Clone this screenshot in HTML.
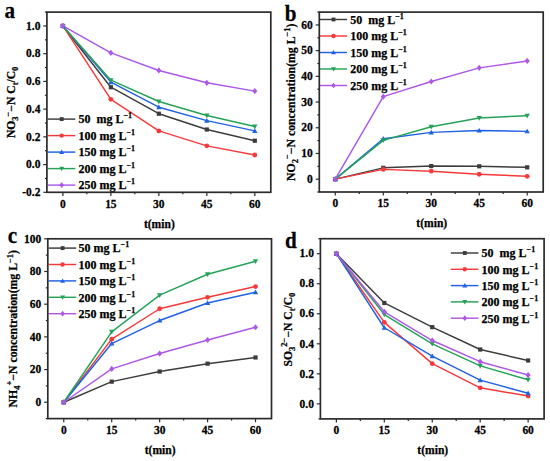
<!DOCTYPE html>
<html><head><meta charset="utf-8"><style>
html,body{margin:0;padding:0;background:#fff;}
body{width:550px;height:461px;overflow:hidden;font-family:"Liberation Serif",serif;}
svg{display:block;}
</style></head><body>
<svg width="550" height="461" viewBox="0 0 550 461">
<rect width="550" height="461" fill="#fff"/>
<polyline points="62.89,25.96 110.87,87.23 158.85,113.71 206.83,129.51 254.81,140.74" fill="none" stroke="#3c3c3c" stroke-width="1.45" stroke-linejoin="round"/>
<polyline points="62.89,25.96 110.87,99.29 158.85,130.89 206.83,145.86 254.81,155.01" fill="none" stroke="#f8393a" stroke-width="1.45" stroke-linejoin="round"/>
<polyline points="62.89,25.96 110.87,82.10 158.85,107.19 206.83,120.64 254.81,130.89" fill="none" stroke="#1e62e6" stroke-width="1.45" stroke-linejoin="round"/>
<polyline points="62.89,25.96 110.87,80.16 158.85,101.51 206.83,115.51 254.81,126.46" fill="none" stroke="#26a257" stroke-width="1.45" stroke-linejoin="round"/>
<polyline points="62.89,25.96 110.87,52.85 158.85,70.46 206.83,82.79 254.81,91.11" fill="none" stroke="#ae58e8" stroke-width="1.45" stroke-linejoin="round"/>
<rect x="60.79" y="23.86" width="4.20" height="4.20" fill="#3c3c3c"/>
<rect x="108.77" y="85.13" width="4.20" height="4.20" fill="#3c3c3c"/>
<rect x="156.75" y="111.61" width="4.20" height="4.20" fill="#3c3c3c"/>
<rect x="204.73" y="127.41" width="4.20" height="4.20" fill="#3c3c3c"/>
<rect x="252.71" y="138.64" width="4.20" height="4.20" fill="#3c3c3c"/>
<circle cx="62.89" cy="25.96" r="2.40" fill="#f8393a"/>
<circle cx="110.87" cy="99.29" r="2.40" fill="#f8393a"/>
<circle cx="158.85" cy="130.89" r="2.40" fill="#f8393a"/>
<circle cx="206.83" cy="145.86" r="2.40" fill="#f8393a"/>
<circle cx="254.81" cy="155.01" r="2.40" fill="#f8393a"/>
<path d="M62.89,23.26 L65.59,27.99 L60.19,27.99Z" fill="#1e62e6"/>
<path d="M110.87,79.40 L113.57,84.13 L108.17,84.13Z" fill="#1e62e6"/>
<path d="M158.85,104.49 L161.55,109.22 L156.15,109.22Z" fill="#1e62e6"/>
<path d="M206.83,117.94 L209.53,122.66 L204.13,122.66Z" fill="#1e62e6"/>
<path d="M254.81,128.19 L257.51,132.92 L252.11,132.92Z" fill="#1e62e6"/>
<path d="M62.89,28.66 L65.59,23.94 L60.19,23.94Z" fill="#26a257"/>
<path d="M110.87,82.86 L113.57,78.14 L108.17,78.14Z" fill="#26a257"/>
<path d="M158.85,104.21 L161.55,99.48 L156.15,99.48Z" fill="#26a257"/>
<path d="M206.83,118.21 L209.53,113.48 L204.13,113.48Z" fill="#26a257"/>
<path d="M254.81,129.16 L257.51,124.43 L252.11,124.43Z" fill="#26a257"/>
<path d="M62.89,22.86 L65.43,25.96 L62.89,29.06 L60.35,25.96Z" fill="#ae58e8"/>
<path d="M110.87,49.75 L113.41,52.85 L110.87,55.95 L108.33,52.85Z" fill="#ae58e8"/>
<path d="M158.85,67.36 L161.39,70.46 L158.85,73.56 L156.31,70.46Z" fill="#ae58e8"/>
<path d="M206.83,79.69 L209.37,82.79 L206.83,85.89 L204.29,82.79Z" fill="#ae58e8"/>
<path d="M254.81,88.01 L257.35,91.11 L254.81,94.21 L252.27,91.11Z" fill="#ae58e8"/>
<line x1="47.70" y1="119.10" x2="75.30" y2="119.10" stroke="#3c3c3c" stroke-width="1.45"/>
<rect x="59.77" y="117.17" width="3.86" height="3.86" fill="#3c3c3c"/>
<text x="78.50" y="123.40" font-size="12" font-family="'Liberation Serif', serif" font-weight="bold" stroke="#000" stroke-width="0.25">50  mg L<tspan font-size="8" dy="-5">−1</tspan></text>
<line x1="47.70" y1="135.60" x2="75.30" y2="135.60" stroke="#f8393a" stroke-width="1.45"/>
<circle cx="61.70" cy="135.60" r="2.21" fill="#f8393a"/>
<text x="78.50" y="139.90" font-size="12" font-family="'Liberation Serif', serif" font-weight="bold" stroke="#000" stroke-width="0.25">100 mg L<tspan font-size="8" dy="-5">−1</tspan></text>
<line x1="47.70" y1="152.10" x2="75.30" y2="152.10" stroke="#1e62e6" stroke-width="1.45"/>
<path d="M61.70,149.62 L64.18,153.96 L59.22,153.96Z" fill="#1e62e6"/>
<text x="78.50" y="156.40" font-size="12" font-family="'Liberation Serif', serif" font-weight="bold" stroke="#000" stroke-width="0.25">150 mg L<tspan font-size="8" dy="-5">−1</tspan></text>
<line x1="47.70" y1="168.60" x2="75.30" y2="168.60" stroke="#26a257" stroke-width="1.45"/>
<path d="M61.70,171.08 L64.18,166.74 L59.22,166.74Z" fill="#26a257"/>
<text x="78.50" y="172.90" font-size="12" font-family="'Liberation Serif', serif" font-weight="bold" stroke="#000" stroke-width="0.25">200 mg L<tspan font-size="8" dy="-5">−1</tspan></text>
<line x1="47.70" y1="185.10" x2="75.30" y2="185.10" stroke="#ae58e8" stroke-width="1.45"/>
<path d="M61.70,182.25 L64.04,185.10 L61.70,187.95 L59.36,185.10Z" fill="#ae58e8"/>
<text x="78.50" y="189.40" font-size="12" font-family="'Liberation Serif', serif" font-weight="bold" stroke="#000" stroke-width="0.25">250 mg L<tspan font-size="8" dy="-5">−1</tspan></text>
<rect x="46.90" y="12.10" width="223.90" height="180.20" fill="none" stroke="#2b2b2b" stroke-width="1.7"/>
<line x1="62.89" y1="192.30" x2="62.89" y2="195.90" stroke="#2b2b2b" stroke-width="1.2"/>
<text transform="translate(62.89,207.60) scale(1,1.11)" font-size="11.5" text-anchor="middle" font-family="'Liberation Serif', serif" font-weight="bold" stroke="#000" stroke-width="0.25">0</text>
<line x1="110.87" y1="192.30" x2="110.87" y2="195.90" stroke="#2b2b2b" stroke-width="1.2"/>
<text transform="translate(110.87,207.60) scale(1,1.11)" font-size="11.5" text-anchor="middle" font-family="'Liberation Serif', serif" font-weight="bold" stroke="#000" stroke-width="0.25">15</text>
<line x1="158.85" y1="192.30" x2="158.85" y2="195.90" stroke="#2b2b2b" stroke-width="1.2"/>
<text transform="translate(158.85,207.60) scale(1,1.11)" font-size="11.5" text-anchor="middle" font-family="'Liberation Serif', serif" font-weight="bold" stroke="#000" stroke-width="0.25">30</text>
<line x1="206.83" y1="192.30" x2="206.83" y2="195.90" stroke="#2b2b2b" stroke-width="1.2"/>
<text transform="translate(206.83,207.60) scale(1,1.11)" font-size="11.5" text-anchor="middle" font-family="'Liberation Serif', serif" font-weight="bold" stroke="#000" stroke-width="0.25">45</text>
<line x1="254.81" y1="192.30" x2="254.81" y2="195.90" stroke="#2b2b2b" stroke-width="1.2"/>
<text transform="translate(254.81,207.60) scale(1,1.11)" font-size="11.5" text-anchor="middle" font-family="'Liberation Serif', serif" font-weight="bold" stroke="#000" stroke-width="0.25">60</text>
<line x1="86.88" y1="192.30" x2="86.88" y2="194.30" stroke="#2b2b2b" stroke-width="1.2"/>
<line x1="134.86" y1="192.30" x2="134.86" y2="194.30" stroke="#2b2b2b" stroke-width="1.2"/>
<line x1="182.84" y1="192.30" x2="182.84" y2="194.30" stroke="#2b2b2b" stroke-width="1.2"/>
<line x1="230.82" y1="192.30" x2="230.82" y2="194.30" stroke="#2b2b2b" stroke-width="1.2"/>
<text x="159.35" y="227.60" font-size="11.6" text-anchor="middle" font-family="'Liberation Serif', serif" font-weight="bold" stroke="#000" stroke-width="0.25">t(min)</text>
<line x1="43.30" y1="192.30" x2="46.90" y2="192.30" stroke="#2b2b2b" stroke-width="1.2"/>
<text transform="translate(40.40,196.00) scale(1,1.11)" font-size="11.5" text-anchor="end" font-family="'Liberation Serif', serif" font-weight="bold" stroke="#000" stroke-width="0.25">-0.2</text>
<line x1="43.30" y1="164.58" x2="46.90" y2="164.58" stroke="#2b2b2b" stroke-width="1.2"/>
<text transform="translate(40.40,168.28) scale(1,1.11)" font-size="11.5" text-anchor="end" font-family="'Liberation Serif', serif" font-weight="bold" stroke="#000" stroke-width="0.25">0.0</text>
<line x1="43.30" y1="136.85" x2="46.90" y2="136.85" stroke="#2b2b2b" stroke-width="1.2"/>
<text transform="translate(40.40,140.55) scale(1,1.11)" font-size="11.5" text-anchor="end" font-family="'Liberation Serif', serif" font-weight="bold" stroke="#000" stroke-width="0.25">0.2</text>
<line x1="43.30" y1="109.13" x2="46.90" y2="109.13" stroke="#2b2b2b" stroke-width="1.2"/>
<text transform="translate(40.40,112.83) scale(1,1.11)" font-size="11.5" text-anchor="end" font-family="'Liberation Serif', serif" font-weight="bold" stroke="#000" stroke-width="0.25">0.4</text>
<line x1="43.30" y1="81.41" x2="46.90" y2="81.41" stroke="#2b2b2b" stroke-width="1.2"/>
<text transform="translate(40.40,85.11) scale(1,1.11)" font-size="11.5" text-anchor="end" font-family="'Liberation Serif', serif" font-weight="bold" stroke="#000" stroke-width="0.25">0.6</text>
<line x1="43.30" y1="53.68" x2="46.90" y2="53.68" stroke="#2b2b2b" stroke-width="1.2"/>
<text transform="translate(40.40,57.38) scale(1,1.11)" font-size="11.5" text-anchor="end" font-family="'Liberation Serif', serif" font-weight="bold" stroke="#000" stroke-width="0.25">0.8</text>
<line x1="43.30" y1="25.96" x2="46.90" y2="25.96" stroke="#2b2b2b" stroke-width="1.2"/>
<text transform="translate(40.40,29.66) scale(1,1.11)" font-size="11.5" text-anchor="end" font-family="'Liberation Serif', serif" font-weight="bold" stroke="#000" stroke-width="0.25">1.0</text>
<line x1="44.90" y1="178.44" x2="46.90" y2="178.44" stroke="#2b2b2b" stroke-width="1.2"/>
<line x1="44.90" y1="150.72" x2="46.90" y2="150.72" stroke="#2b2b2b" stroke-width="1.2"/>
<line x1="44.90" y1="122.99" x2="46.90" y2="122.99" stroke="#2b2b2b" stroke-width="1.2"/>
<line x1="44.90" y1="95.27" x2="46.90" y2="95.27" stroke="#2b2b2b" stroke-width="1.2"/>
<line x1="44.90" y1="67.55" x2="46.90" y2="67.55" stroke="#2b2b2b" stroke-width="1.2"/>
<line x1="44.90" y1="39.82" x2="46.90" y2="39.82" stroke="#2b2b2b" stroke-width="1.2"/>
<line x1="44.90" y1="12.10" x2="46.90" y2="12.10" stroke="#2b2b2b" stroke-width="1.2"/>
<text transform="translate(4.40,17.70) scale(0.92,1)" font-size="23" font-family="'Liberation Serif', serif" font-weight="bold" stroke="#000" stroke-width="0.25">a</text>
<text transform="translate(15.4,102.4) rotate(-90)" text-anchor="middle" font-size="11.6" font-family="'Liberation Serif', serif" font-weight="bold" stroke="#000" stroke-width="0.25">NO<tspan font-size="8.5" dy="2.8">3</tspan><tspan font-size="8.5" dy="-7.5">−</tspan><tspan dy="4.7">−N C</tspan><tspan font-size="8.5" dy="2.8">t</tspan><tspan dy="-2.8">/C</tspan><tspan font-size="8.5" dy="2.8">0</tspan></text>
<polyline points="335.29,179.15 383.27,167.84 431.25,166.04 479.23,166.30 527.21,167.33" fill="none" stroke="#3c3c3c" stroke-width="1.45" stroke-linejoin="round"/>
<polyline points="335.29,179.15 383.27,169.38 431.25,171.18 479.23,174.27 527.21,176.32" fill="none" stroke="#f8393a" stroke-width="1.45" stroke-linejoin="round"/>
<polyline points="335.29,179.15 383.27,138.80 431.25,132.38 479.23,130.58 527.21,131.35" fill="none" stroke="#1e62e6" stroke-width="1.45" stroke-linejoin="round"/>
<polyline points="335.29,179.15 383.27,140.34 431.25,126.72 479.23,117.98 527.21,115.67" fill="none" stroke="#26a257" stroke-width="1.45" stroke-linejoin="round"/>
<polyline points="335.29,179.15 383.27,96.65 431.25,81.49 479.23,67.87 527.21,60.93" fill="none" stroke="#ae58e8" stroke-width="1.45" stroke-linejoin="round"/>
<rect x="333.19" y="177.05" width="4.20" height="4.20" fill="#3c3c3c"/>
<rect x="381.17" y="165.74" width="4.20" height="4.20" fill="#3c3c3c"/>
<rect x="429.15" y="163.94" width="4.20" height="4.20" fill="#3c3c3c"/>
<rect x="477.13" y="164.20" width="4.20" height="4.20" fill="#3c3c3c"/>
<rect x="525.11" y="165.23" width="4.20" height="4.20" fill="#3c3c3c"/>
<circle cx="335.29" cy="179.15" r="2.40" fill="#f8393a"/>
<circle cx="383.27" cy="169.38" r="2.40" fill="#f8393a"/>
<circle cx="431.25" cy="171.18" r="2.40" fill="#f8393a"/>
<circle cx="479.23" cy="174.27" r="2.40" fill="#f8393a"/>
<circle cx="527.21" cy="176.32" r="2.40" fill="#f8393a"/>
<path d="M335.29,176.45 L337.99,181.18 L332.59,181.18Z" fill="#1e62e6"/>
<path d="M383.27,136.10 L385.97,140.83 L380.57,140.83Z" fill="#1e62e6"/>
<path d="M431.25,129.68 L433.95,134.40 L428.55,134.40Z" fill="#1e62e6"/>
<path d="M479.23,127.88 L481.93,132.60 L476.53,132.60Z" fill="#1e62e6"/>
<path d="M527.21,128.65 L529.91,133.37 L524.51,133.37Z" fill="#1e62e6"/>
<path d="M335.29,181.85 L337.99,177.12 L332.59,177.12Z" fill="#26a257"/>
<path d="M383.27,143.04 L385.97,138.32 L380.57,138.32Z" fill="#26a257"/>
<path d="M431.25,129.42 L433.95,124.70 L428.55,124.70Z" fill="#26a257"/>
<path d="M479.23,120.68 L481.93,115.96 L476.53,115.96Z" fill="#26a257"/>
<path d="M527.21,118.37 L529.91,113.65 L524.51,113.65Z" fill="#26a257"/>
<path d="M335.29,176.05 L337.83,179.15 L335.29,182.25 L332.75,179.15Z" fill="#ae58e8"/>
<path d="M383.27,93.55 L385.81,96.65 L383.27,99.75 L380.73,96.65Z" fill="#ae58e8"/>
<path d="M431.25,78.39 L433.79,81.49 L431.25,84.59 L428.71,81.49Z" fill="#ae58e8"/>
<path d="M479.23,64.77 L481.77,67.87 L479.23,70.97 L476.69,67.87Z" fill="#ae58e8"/>
<path d="M527.21,57.83 L529.75,60.93 L527.21,64.03 L524.67,60.93Z" fill="#ae58e8"/>
<line x1="319.50" y1="19.50" x2="347.10" y2="19.50" stroke="#3c3c3c" stroke-width="1.45"/>
<rect x="331.57" y="17.57" width="3.86" height="3.86" fill="#3c3c3c"/>
<text x="350.30" y="23.80" font-size="12" font-family="'Liberation Serif', serif" font-weight="bold" stroke="#000" stroke-width="0.25">50  mg L<tspan font-size="8" dy="-5">−1</tspan></text>
<line x1="319.50" y1="36.00" x2="347.10" y2="36.00" stroke="#f8393a" stroke-width="1.45"/>
<circle cx="333.50" cy="36.00" r="2.21" fill="#f8393a"/>
<text x="350.30" y="40.30" font-size="12" font-family="'Liberation Serif', serif" font-weight="bold" stroke="#000" stroke-width="0.25">100 mg L<tspan font-size="8" dy="-5">−1</tspan></text>
<line x1="319.50" y1="52.50" x2="347.10" y2="52.50" stroke="#1e62e6" stroke-width="1.45"/>
<path d="M333.50,50.02 L335.98,54.36 L331.02,54.36Z" fill="#1e62e6"/>
<text x="350.30" y="56.80" font-size="12" font-family="'Liberation Serif', serif" font-weight="bold" stroke="#000" stroke-width="0.25">150 mg L<tspan font-size="8" dy="-5">−1</tspan></text>
<line x1="319.50" y1="69.00" x2="347.10" y2="69.00" stroke="#26a257" stroke-width="1.45"/>
<path d="M333.50,71.48 L335.98,67.14 L331.02,67.14Z" fill="#26a257"/>
<text x="350.30" y="73.30" font-size="12" font-family="'Liberation Serif', serif" font-weight="bold" stroke="#000" stroke-width="0.25">200 mg L<tspan font-size="8" dy="-5">−1</tspan></text>
<line x1="319.50" y1="85.50" x2="347.10" y2="85.50" stroke="#ae58e8" stroke-width="1.45"/>
<path d="M333.50,82.65 L335.84,85.50 L333.50,88.35 L331.16,85.50Z" fill="#ae58e8"/>
<text x="350.30" y="89.80" font-size="12" font-family="'Liberation Serif', serif" font-weight="bold" stroke="#000" stroke-width="0.25">250 mg L<tspan font-size="8" dy="-5">−1</tspan></text>
<rect x="319.30" y="12.10" width="223.90" height="179.90" fill="none" stroke="#2b2b2b" stroke-width="1.7"/>
<line x1="335.29" y1="192.00" x2="335.29" y2="195.60" stroke="#2b2b2b" stroke-width="1.2"/>
<text transform="translate(335.29,207.30) scale(1,1.11)" font-size="11.5" text-anchor="middle" font-family="'Liberation Serif', serif" font-weight="bold" stroke="#000" stroke-width="0.25">0</text>
<line x1="383.27" y1="192.00" x2="383.27" y2="195.60" stroke="#2b2b2b" stroke-width="1.2"/>
<text transform="translate(383.27,207.30) scale(1,1.11)" font-size="11.5" text-anchor="middle" font-family="'Liberation Serif', serif" font-weight="bold" stroke="#000" stroke-width="0.25">15</text>
<line x1="431.25" y1="192.00" x2="431.25" y2="195.60" stroke="#2b2b2b" stroke-width="1.2"/>
<text transform="translate(431.25,207.30) scale(1,1.11)" font-size="11.5" text-anchor="middle" font-family="'Liberation Serif', serif" font-weight="bold" stroke="#000" stroke-width="0.25">30</text>
<line x1="479.23" y1="192.00" x2="479.23" y2="195.60" stroke="#2b2b2b" stroke-width="1.2"/>
<text transform="translate(479.23,207.30) scale(1,1.11)" font-size="11.5" text-anchor="middle" font-family="'Liberation Serif', serif" font-weight="bold" stroke="#000" stroke-width="0.25">45</text>
<line x1="527.21" y1="192.00" x2="527.21" y2="195.60" stroke="#2b2b2b" stroke-width="1.2"/>
<text transform="translate(527.21,207.30) scale(1,1.11)" font-size="11.5" text-anchor="middle" font-family="'Liberation Serif', serif" font-weight="bold" stroke="#000" stroke-width="0.25">60</text>
<line x1="359.28" y1="192.00" x2="359.28" y2="194.00" stroke="#2b2b2b" stroke-width="1.2"/>
<line x1="407.26" y1="192.00" x2="407.26" y2="194.00" stroke="#2b2b2b" stroke-width="1.2"/>
<line x1="455.24" y1="192.00" x2="455.24" y2="194.00" stroke="#2b2b2b" stroke-width="1.2"/>
<line x1="503.22" y1="192.00" x2="503.22" y2="194.00" stroke="#2b2b2b" stroke-width="1.2"/>
<text x="431.75" y="227.30" font-size="11.6" text-anchor="middle" font-family="'Liberation Serif', serif" font-weight="bold" stroke="#000" stroke-width="0.25">t(min)</text>
<line x1="315.70" y1="179.15" x2="319.30" y2="179.15" stroke="#2b2b2b" stroke-width="1.2"/>
<text transform="translate(312.80,182.85) scale(1,1.11)" font-size="11.5" text-anchor="end" font-family="'Liberation Serif', serif" font-weight="bold" stroke="#000" stroke-width="0.25">0</text>
<line x1="315.70" y1="153.45" x2="319.30" y2="153.45" stroke="#2b2b2b" stroke-width="1.2"/>
<text transform="translate(312.80,157.15) scale(1,1.11)" font-size="11.5" text-anchor="end" font-family="'Liberation Serif', serif" font-weight="bold" stroke="#000" stroke-width="0.25">10</text>
<line x1="315.70" y1="127.75" x2="319.30" y2="127.75" stroke="#2b2b2b" stroke-width="1.2"/>
<text transform="translate(312.80,131.45) scale(1,1.11)" font-size="11.5" text-anchor="end" font-family="'Liberation Serif', serif" font-weight="bold" stroke="#000" stroke-width="0.25">20</text>
<line x1="315.70" y1="102.05" x2="319.30" y2="102.05" stroke="#2b2b2b" stroke-width="1.2"/>
<text transform="translate(312.80,105.75) scale(1,1.11)" font-size="11.5" text-anchor="end" font-family="'Liberation Serif', serif" font-weight="bold" stroke="#000" stroke-width="0.25">30</text>
<line x1="315.70" y1="76.35" x2="319.30" y2="76.35" stroke="#2b2b2b" stroke-width="1.2"/>
<text transform="translate(312.80,80.05) scale(1,1.11)" font-size="11.5" text-anchor="end" font-family="'Liberation Serif', serif" font-weight="bold" stroke="#000" stroke-width="0.25">40</text>
<line x1="315.70" y1="50.65" x2="319.30" y2="50.65" stroke="#2b2b2b" stroke-width="1.2"/>
<text transform="translate(312.80,54.35) scale(1,1.11)" font-size="11.5" text-anchor="end" font-family="'Liberation Serif', serif" font-weight="bold" stroke="#000" stroke-width="0.25">50</text>
<line x1="315.70" y1="24.95" x2="319.30" y2="24.95" stroke="#2b2b2b" stroke-width="1.2"/>
<text transform="translate(312.80,28.65) scale(1,1.11)" font-size="11.5" text-anchor="end" font-family="'Liberation Serif', serif" font-weight="bold" stroke="#000" stroke-width="0.25">60</text>
<line x1="317.30" y1="192.00" x2="319.30" y2="192.00" stroke="#2b2b2b" stroke-width="1.2"/>
<line x1="317.30" y1="166.30" x2="319.30" y2="166.30" stroke="#2b2b2b" stroke-width="1.2"/>
<line x1="317.30" y1="140.60" x2="319.30" y2="140.60" stroke="#2b2b2b" stroke-width="1.2"/>
<line x1="317.30" y1="114.90" x2="319.30" y2="114.90" stroke="#2b2b2b" stroke-width="1.2"/>
<line x1="317.30" y1="89.20" x2="319.30" y2="89.20" stroke="#2b2b2b" stroke-width="1.2"/>
<line x1="317.30" y1="63.50" x2="319.30" y2="63.50" stroke="#2b2b2b" stroke-width="1.2"/>
<line x1="317.30" y1="37.80" x2="319.30" y2="37.80" stroke="#2b2b2b" stroke-width="1.2"/>
<line x1="317.30" y1="12.10" x2="319.30" y2="12.10" stroke="#2b2b2b" stroke-width="1.2"/>
<text transform="translate(284.80,20.80) scale(0.92,1)" font-size="23" font-family="'Liberation Serif', serif" font-weight="bold" stroke="#000" stroke-width="0.25">b</text>
<text transform="translate(294.8,102.2) rotate(-90)" text-anchor="middle" font-size="11.76" font-family="'Liberation Serif', serif" font-weight="bold" stroke="#000" stroke-width="0.25">NO<tspan font-size="8.5" dy="2.8">2</tspan><tspan font-size="8.5" dy="-7.5">−</tspan><tspan dy="4.7">−N concentration(mg L</tspan><tspan font-size="8.5" dy="-4.5">−1</tspan><tspan dy="4.5">)</tspan></text>
<polyline points="63.78,402.25 111.71,381.66 159.65,371.53 207.59,363.68 255.52,357.47" fill="none" stroke="#3c3c3c" stroke-width="1.45" stroke-linejoin="round"/>
<polyline points="63.78,402.25 111.71,339.16 159.65,308.76 207.59,297.32 255.52,286.53" fill="none" stroke="#f8393a" stroke-width="1.45" stroke-linejoin="round"/>
<polyline points="63.78,402.25 111.71,343.57 159.65,320.53 207.59,303.04 255.52,292.25" fill="none" stroke="#1e62e6" stroke-width="1.45" stroke-linejoin="round"/>
<polyline points="63.78,402.25 111.71,331.81 159.65,295.19 207.59,274.27 255.52,261.19" fill="none" stroke="#26a257" stroke-width="1.45" stroke-linejoin="round"/>
<polyline points="63.78,402.25 111.71,368.91 159.65,353.55 207.59,339.98 255.52,327.23" fill="none" stroke="#ae58e8" stroke-width="1.45" stroke-linejoin="round"/>
<rect x="61.68" y="400.15" width="4.20" height="4.20" fill="#3c3c3c"/>
<rect x="109.61" y="379.56" width="4.20" height="4.20" fill="#3c3c3c"/>
<rect x="157.55" y="369.43" width="4.20" height="4.20" fill="#3c3c3c"/>
<rect x="205.49" y="361.58" width="4.20" height="4.20" fill="#3c3c3c"/>
<rect x="253.42" y="355.37" width="4.20" height="4.20" fill="#3c3c3c"/>
<circle cx="63.78" cy="402.25" r="2.40" fill="#f8393a"/>
<circle cx="111.71" cy="339.16" r="2.40" fill="#f8393a"/>
<circle cx="159.65" cy="308.76" r="2.40" fill="#f8393a"/>
<circle cx="207.59" cy="297.32" r="2.40" fill="#f8393a"/>
<circle cx="255.52" cy="286.53" r="2.40" fill="#f8393a"/>
<path d="M63.78,399.55 L66.48,404.28 L61.08,404.28Z" fill="#1e62e6"/>
<path d="M111.71,340.87 L114.41,345.60 L109.01,345.60Z" fill="#1e62e6"/>
<path d="M159.65,317.83 L162.35,322.55 L156.95,322.55Z" fill="#1e62e6"/>
<path d="M207.59,300.34 L210.29,305.06 L204.89,305.06Z" fill="#1e62e6"/>
<path d="M255.52,289.55 L258.22,294.27 L252.82,294.27Z" fill="#1e62e6"/>
<path d="M63.78,404.95 L66.48,400.23 L61.08,400.23Z" fill="#26a257"/>
<path d="M111.71,334.51 L114.41,329.78 L109.01,329.78Z" fill="#26a257"/>
<path d="M159.65,297.89 L162.35,293.17 L156.95,293.17Z" fill="#26a257"/>
<path d="M207.59,276.97 L210.29,272.24 L204.89,272.24Z" fill="#26a257"/>
<path d="M255.52,263.89 L258.22,259.17 L252.82,259.17Z" fill="#26a257"/>
<path d="M63.78,399.15 L66.32,402.25 L63.78,405.35 L61.24,402.25Z" fill="#ae58e8"/>
<path d="M111.71,365.81 L114.26,368.91 L111.71,372.01 L109.17,368.91Z" fill="#ae58e8"/>
<path d="M159.65,350.45 L162.19,353.55 L159.65,356.65 L157.11,353.55Z" fill="#ae58e8"/>
<path d="M207.59,336.88 L210.13,339.98 L207.59,343.08 L205.04,339.98Z" fill="#ae58e8"/>
<path d="M255.52,324.13 L258.06,327.23 L255.52,330.33 L252.98,327.23Z" fill="#ae58e8"/>
<line x1="48.60" y1="248.10" x2="76.20" y2="248.10" stroke="#3c3c3c" stroke-width="1.45"/>
<rect x="60.67" y="246.17" width="3.86" height="3.86" fill="#3c3c3c"/>
<text x="78.60" y="252.40" font-size="12" font-family="'Liberation Serif', serif" font-weight="bold" stroke="#000" stroke-width="0.25">50 mg L<tspan font-size="8" dy="-5">−1</tspan></text>
<line x1="48.60" y1="264.50" x2="76.20" y2="264.50" stroke="#f8393a" stroke-width="1.45"/>
<circle cx="62.60" cy="264.50" r="2.21" fill="#f8393a"/>
<text x="78.60" y="268.80" font-size="12" font-family="'Liberation Serif', serif" font-weight="bold" stroke="#000" stroke-width="0.25">100 mg L<tspan font-size="8" dy="-5">−1</tspan></text>
<line x1="48.60" y1="280.90" x2="76.20" y2="280.90" stroke="#1e62e6" stroke-width="1.45"/>
<path d="M62.60,278.42 L65.08,282.76 L60.12,282.76Z" fill="#1e62e6"/>
<text x="78.60" y="285.20" font-size="12" font-family="'Liberation Serif', serif" font-weight="bold" stroke="#000" stroke-width="0.25">150 mg L<tspan font-size="8" dy="-5">−1</tspan></text>
<line x1="48.60" y1="297.30" x2="76.20" y2="297.30" stroke="#26a257" stroke-width="1.45"/>
<path d="M62.60,299.78 L65.08,295.44 L60.12,295.44Z" fill="#26a257"/>
<text x="78.60" y="301.60" font-size="12" font-family="'Liberation Serif', serif" font-weight="bold" stroke="#000" stroke-width="0.25">200 mg L<tspan font-size="8" dy="-5">−1</tspan></text>
<line x1="48.60" y1="313.70" x2="76.20" y2="313.70" stroke="#ae58e8" stroke-width="1.45"/>
<path d="M62.60,310.85 L64.94,313.70 L62.60,316.55 L60.26,313.70Z" fill="#ae58e8"/>
<text x="78.60" y="318.00" font-size="12" font-family="'Liberation Serif', serif" font-weight="bold" stroke="#000" stroke-width="0.25">250 mg L<tspan font-size="8" dy="-5">−1</tspan></text>
<rect x="47.80" y="238.80" width="223.70" height="179.80" fill="none" stroke="#2b2b2b" stroke-width="1.7"/>
<line x1="63.78" y1="418.60" x2="63.78" y2="422.20" stroke="#2b2b2b" stroke-width="1.2"/>
<text transform="translate(63.78,433.90) scale(1,1.11)" font-size="11.5" text-anchor="middle" font-family="'Liberation Serif', serif" font-weight="bold" stroke="#000" stroke-width="0.25">0</text>
<line x1="111.71" y1="418.60" x2="111.71" y2="422.20" stroke="#2b2b2b" stroke-width="1.2"/>
<text transform="translate(111.71,433.90) scale(1,1.11)" font-size="11.5" text-anchor="middle" font-family="'Liberation Serif', serif" font-weight="bold" stroke="#000" stroke-width="0.25">15</text>
<line x1="159.65" y1="418.60" x2="159.65" y2="422.20" stroke="#2b2b2b" stroke-width="1.2"/>
<text transform="translate(159.65,433.90) scale(1,1.11)" font-size="11.5" text-anchor="middle" font-family="'Liberation Serif', serif" font-weight="bold" stroke="#000" stroke-width="0.25">30</text>
<line x1="207.59" y1="418.60" x2="207.59" y2="422.20" stroke="#2b2b2b" stroke-width="1.2"/>
<text transform="translate(207.59,433.90) scale(1,1.11)" font-size="11.5" text-anchor="middle" font-family="'Liberation Serif', serif" font-weight="bold" stroke="#000" stroke-width="0.25">45</text>
<line x1="255.52" y1="418.60" x2="255.52" y2="422.20" stroke="#2b2b2b" stroke-width="1.2"/>
<text transform="translate(255.52,433.90) scale(1,1.11)" font-size="11.5" text-anchor="middle" font-family="'Liberation Serif', serif" font-weight="bold" stroke="#000" stroke-width="0.25">60</text>
<line x1="87.75" y1="418.60" x2="87.75" y2="420.60" stroke="#2b2b2b" stroke-width="1.2"/>
<line x1="135.68" y1="418.60" x2="135.68" y2="420.60" stroke="#2b2b2b" stroke-width="1.2"/>
<line x1="183.62" y1="418.60" x2="183.62" y2="420.60" stroke="#2b2b2b" stroke-width="1.2"/>
<line x1="231.55" y1="418.60" x2="231.55" y2="420.60" stroke="#2b2b2b" stroke-width="1.2"/>
<text x="160.15" y="453.90" font-size="11.6" text-anchor="middle" font-family="'Liberation Serif', serif" font-weight="bold" stroke="#000" stroke-width="0.25">t(min)</text>
<line x1="44.20" y1="402.25" x2="47.80" y2="402.25" stroke="#2b2b2b" stroke-width="1.2"/>
<text transform="translate(41.30,405.95) scale(1,1.11)" font-size="11.5" text-anchor="end" font-family="'Liberation Serif', serif" font-weight="bold" stroke="#000" stroke-width="0.25">0</text>
<line x1="44.20" y1="369.56" x2="47.80" y2="369.56" stroke="#2b2b2b" stroke-width="1.2"/>
<text transform="translate(41.30,373.26) scale(1,1.11)" font-size="11.5" text-anchor="end" font-family="'Liberation Serif', serif" font-weight="bold" stroke="#000" stroke-width="0.25">20</text>
<line x1="44.20" y1="336.87" x2="47.80" y2="336.87" stroke="#2b2b2b" stroke-width="1.2"/>
<text transform="translate(41.30,340.57) scale(1,1.11)" font-size="11.5" text-anchor="end" font-family="'Liberation Serif', serif" font-weight="bold" stroke="#000" stroke-width="0.25">40</text>
<line x1="44.20" y1="304.18" x2="47.80" y2="304.18" stroke="#2b2b2b" stroke-width="1.2"/>
<text transform="translate(41.30,307.88) scale(1,1.11)" font-size="11.5" text-anchor="end" font-family="'Liberation Serif', serif" font-weight="bold" stroke="#000" stroke-width="0.25">60</text>
<line x1="44.20" y1="271.49" x2="47.80" y2="271.49" stroke="#2b2b2b" stroke-width="1.2"/>
<text transform="translate(41.30,275.19) scale(1,1.11)" font-size="11.5" text-anchor="end" font-family="'Liberation Serif', serif" font-weight="bold" stroke="#000" stroke-width="0.25">80</text>
<line x1="44.20" y1="238.80" x2="47.80" y2="238.80" stroke="#2b2b2b" stroke-width="1.2"/>
<text transform="translate(41.30,242.50) scale(1,1.11)" font-size="11.5" text-anchor="end" font-family="'Liberation Serif', serif" font-weight="bold" stroke="#000" stroke-width="0.25">100</text>
<line x1="45.80" y1="418.60" x2="47.80" y2="418.60" stroke="#2b2b2b" stroke-width="1.2"/>
<line x1="45.80" y1="385.91" x2="47.80" y2="385.91" stroke="#2b2b2b" stroke-width="1.2"/>
<line x1="45.80" y1="353.22" x2="47.80" y2="353.22" stroke="#2b2b2b" stroke-width="1.2"/>
<line x1="45.80" y1="320.53" x2="47.80" y2="320.53" stroke="#2b2b2b" stroke-width="1.2"/>
<line x1="45.80" y1="287.84" x2="47.80" y2="287.84" stroke="#2b2b2b" stroke-width="1.2"/>
<line x1="45.80" y1="255.15" x2="47.80" y2="255.15" stroke="#2b2b2b" stroke-width="1.2"/>
<text transform="translate(7.80,242.60) scale(0.92,1)" font-size="23" font-family="'Liberation Serif', serif" font-weight="bold" stroke="#000" stroke-width="0.25">c</text>
<text transform="translate(17.0,328.7) rotate(-90)" text-anchor="middle" font-size="11.76" font-family="'Liberation Serif', serif" font-weight="bold" stroke="#000" stroke-width="0.25">NH<tspan font-size="8.5" dy="2.8">4</tspan><tspan font-size="8.5" dy="-7.5">+</tspan><tspan dy="4.7">−N concentration(mg L</tspan><tspan font-size="8.5" dy="-4.5">−1</tspan><tspan dy="4.5">)</tspan></text>
<polyline points="336.38,253.72 384.31,302.97 432.25,327.15 480.19,349.52 528.12,360.49" fill="none" stroke="#3c3c3c" stroke-width="1.45" stroke-linejoin="round"/>
<polyline points="336.38,253.72 384.31,322.34 432.25,363.64 480.19,387.82 528.12,396.07" fill="none" stroke="#f8393a" stroke-width="1.45" stroke-linejoin="round"/>
<polyline points="336.38,253.72 384.31,327.75 432.25,356.13 480.19,380.16 528.12,393.22" fill="none" stroke="#1e62e6" stroke-width="1.45" stroke-linejoin="round"/>
<polyline points="336.38,253.72 384.31,314.53 432.25,343.82 480.19,365.89 528.12,379.71" fill="none" stroke="#26a257" stroke-width="1.45" stroke-linejoin="round"/>
<polyline points="336.38,253.72 384.31,311.83 432.25,340.51 480.19,361.69 528.12,375.05" fill="none" stroke="#ae58e8" stroke-width="1.45" stroke-linejoin="round"/>
<rect x="334.28" y="251.62" width="4.20" height="4.20" fill="#3c3c3c"/>
<rect x="382.21" y="300.87" width="4.20" height="4.20" fill="#3c3c3c"/>
<rect x="430.15" y="325.05" width="4.20" height="4.20" fill="#3c3c3c"/>
<rect x="478.09" y="347.42" width="4.20" height="4.20" fill="#3c3c3c"/>
<rect x="526.02" y="358.39" width="4.20" height="4.20" fill="#3c3c3c"/>
<circle cx="336.38" cy="253.72" r="2.40" fill="#f8393a"/>
<circle cx="384.31" cy="322.34" r="2.40" fill="#f8393a"/>
<circle cx="432.25" cy="363.64" r="2.40" fill="#f8393a"/>
<circle cx="480.19" cy="387.82" r="2.40" fill="#f8393a"/>
<circle cx="528.12" cy="396.07" r="2.40" fill="#f8393a"/>
<path d="M336.38,251.02 L339.08,255.74 L333.68,255.74Z" fill="#1e62e6"/>
<path d="M384.31,325.05 L387.01,329.77 L381.61,329.77Z" fill="#1e62e6"/>
<path d="M432.25,353.43 L434.95,358.16 L429.55,358.16Z" fill="#1e62e6"/>
<path d="M480.19,377.46 L482.89,382.18 L477.49,382.18Z" fill="#1e62e6"/>
<path d="M528.12,390.52 L530.82,395.25 L525.42,395.25Z" fill="#1e62e6"/>
<path d="M336.38,256.42 L339.08,251.69 L333.68,251.69Z" fill="#26a257"/>
<path d="M384.31,317.23 L387.01,312.51 L381.61,312.51Z" fill="#26a257"/>
<path d="M432.25,346.52 L434.95,341.79 L429.55,341.79Z" fill="#26a257"/>
<path d="M480.19,368.59 L482.89,363.87 L477.49,363.87Z" fill="#26a257"/>
<path d="M528.12,382.41 L530.82,377.68 L525.42,377.68Z" fill="#26a257"/>
<path d="M336.38,250.62 L338.92,253.72 L336.38,256.82 L333.84,253.72Z" fill="#ae58e8"/>
<path d="M384.31,308.73 L386.86,311.83 L384.31,314.93 L381.77,311.83Z" fill="#ae58e8"/>
<path d="M432.25,337.41 L434.79,340.51 L432.25,343.61 L429.71,340.51Z" fill="#ae58e8"/>
<path d="M480.19,358.59 L482.73,361.69 L480.19,364.79 L477.64,361.69Z" fill="#ae58e8"/>
<path d="M528.12,371.95 L530.66,375.05 L528.12,378.15 L525.58,375.05Z" fill="#ae58e8"/>
<line x1="450.80" y1="253.00" x2="478.40" y2="253.00" stroke="#3c3c3c" stroke-width="1.45"/>
<rect x="462.87" y="251.07" width="3.86" height="3.86" fill="#3c3c3c"/>
<text x="481.60" y="257.30" font-size="12" font-family="'Liberation Serif', serif" font-weight="bold" stroke="#000" stroke-width="0.25">50  mg L<tspan font-size="8" dy="-5">−1</tspan></text>
<line x1="450.80" y1="269.30" x2="478.40" y2="269.30" stroke="#f8393a" stroke-width="1.45"/>
<circle cx="464.80" cy="269.30" r="2.21" fill="#f8393a"/>
<text x="481.60" y="273.60" font-size="12" font-family="'Liberation Serif', serif" font-weight="bold" stroke="#000" stroke-width="0.25">100 mg L<tspan font-size="8" dy="-5">−1</tspan></text>
<line x1="450.80" y1="285.60" x2="478.40" y2="285.60" stroke="#1e62e6" stroke-width="1.45"/>
<path d="M464.80,283.12 L467.28,287.46 L462.32,287.46Z" fill="#1e62e6"/>
<text x="481.60" y="289.90" font-size="12" font-family="'Liberation Serif', serif" font-weight="bold" stroke="#000" stroke-width="0.25">150 mg L<tspan font-size="8" dy="-5">−1</tspan></text>
<line x1="450.80" y1="301.90" x2="478.40" y2="301.90" stroke="#26a257" stroke-width="1.45"/>
<path d="M464.80,304.38 L467.28,300.04 L462.32,300.04Z" fill="#26a257"/>
<text x="481.60" y="306.20" font-size="12" font-family="'Liberation Serif', serif" font-weight="bold" stroke="#000" stroke-width="0.25">200 mg L<tspan font-size="8" dy="-5">−1</tspan></text>
<line x1="450.80" y1="318.20" x2="478.40" y2="318.20" stroke="#ae58e8" stroke-width="1.45"/>
<path d="M464.80,315.35 L467.14,318.20 L464.80,321.05 L462.46,318.20Z" fill="#ae58e8"/>
<text x="481.60" y="322.50" font-size="12" font-family="'Liberation Serif', serif" font-weight="bold" stroke="#000" stroke-width="0.25">250 mg L<tspan font-size="8" dy="-5">−1</tspan></text>
<rect x="320.40" y="238.70" width="223.70" height="180.20" fill="none" stroke="#2b2b2b" stroke-width="1.7"/>
<line x1="336.38" y1="418.90" x2="336.38" y2="422.50" stroke="#2b2b2b" stroke-width="1.2"/>
<text transform="translate(336.38,434.20) scale(1,1.11)" font-size="11.5" text-anchor="middle" font-family="'Liberation Serif', serif" font-weight="bold" stroke="#000" stroke-width="0.25">0</text>
<line x1="384.31" y1="418.90" x2="384.31" y2="422.50" stroke="#2b2b2b" stroke-width="1.2"/>
<text transform="translate(384.31,434.20) scale(1,1.11)" font-size="11.5" text-anchor="middle" font-family="'Liberation Serif', serif" font-weight="bold" stroke="#000" stroke-width="0.25">15</text>
<line x1="432.25" y1="418.90" x2="432.25" y2="422.50" stroke="#2b2b2b" stroke-width="1.2"/>
<text transform="translate(432.25,434.20) scale(1,1.11)" font-size="11.5" text-anchor="middle" font-family="'Liberation Serif', serif" font-weight="bold" stroke="#000" stroke-width="0.25">30</text>
<line x1="480.19" y1="418.90" x2="480.19" y2="422.50" stroke="#2b2b2b" stroke-width="1.2"/>
<text transform="translate(480.19,434.20) scale(1,1.11)" font-size="11.5" text-anchor="middle" font-family="'Liberation Serif', serif" font-weight="bold" stroke="#000" stroke-width="0.25">45</text>
<line x1="528.12" y1="418.90" x2="528.12" y2="422.50" stroke="#2b2b2b" stroke-width="1.2"/>
<text transform="translate(528.12,434.20) scale(1,1.11)" font-size="11.5" text-anchor="middle" font-family="'Liberation Serif', serif" font-weight="bold" stroke="#000" stroke-width="0.25">60</text>
<line x1="360.35" y1="418.90" x2="360.35" y2="420.90" stroke="#2b2b2b" stroke-width="1.2"/>
<line x1="408.28" y1="418.90" x2="408.28" y2="420.90" stroke="#2b2b2b" stroke-width="1.2"/>
<line x1="456.22" y1="418.90" x2="456.22" y2="420.90" stroke="#2b2b2b" stroke-width="1.2"/>
<line x1="504.15" y1="418.90" x2="504.15" y2="420.90" stroke="#2b2b2b" stroke-width="1.2"/>
<text x="432.75" y="454.20" font-size="11.6" text-anchor="middle" font-family="'Liberation Serif', serif" font-weight="bold" stroke="#000" stroke-width="0.25">t(min)</text>
<line x1="316.80" y1="403.88" x2="320.40" y2="403.88" stroke="#2b2b2b" stroke-width="1.2"/>
<text transform="translate(313.90,407.58) scale(1,1.11)" font-size="11.5" text-anchor="end" font-family="'Liberation Serif', serif" font-weight="bold" stroke="#000" stroke-width="0.25">0.0</text>
<line x1="316.80" y1="373.85" x2="320.40" y2="373.85" stroke="#2b2b2b" stroke-width="1.2"/>
<text transform="translate(313.90,377.55) scale(1,1.11)" font-size="11.5" text-anchor="end" font-family="'Liberation Serif', serif" font-weight="bold" stroke="#000" stroke-width="0.25">0.2</text>
<line x1="316.80" y1="343.82" x2="320.40" y2="343.82" stroke="#2b2b2b" stroke-width="1.2"/>
<text transform="translate(313.90,347.52) scale(1,1.11)" font-size="11.5" text-anchor="end" font-family="'Liberation Serif', serif" font-weight="bold" stroke="#000" stroke-width="0.25">0.4</text>
<line x1="316.80" y1="313.78" x2="320.40" y2="313.78" stroke="#2b2b2b" stroke-width="1.2"/>
<text transform="translate(313.90,317.48) scale(1,1.11)" font-size="11.5" text-anchor="end" font-family="'Liberation Serif', serif" font-weight="bold" stroke="#000" stroke-width="0.25">0.6</text>
<line x1="316.80" y1="283.75" x2="320.40" y2="283.75" stroke="#2b2b2b" stroke-width="1.2"/>
<text transform="translate(313.90,287.45) scale(1,1.11)" font-size="11.5" text-anchor="end" font-family="'Liberation Serif', serif" font-weight="bold" stroke="#000" stroke-width="0.25">0.8</text>
<line x1="316.80" y1="253.72" x2="320.40" y2="253.72" stroke="#2b2b2b" stroke-width="1.2"/>
<text transform="translate(313.90,257.42) scale(1,1.11)" font-size="11.5" text-anchor="end" font-family="'Liberation Serif', serif" font-weight="bold" stroke="#000" stroke-width="0.25">1.0</text>
<line x1="318.40" y1="418.90" x2="320.40" y2="418.90" stroke="#2b2b2b" stroke-width="1.2"/>
<line x1="318.40" y1="388.87" x2="320.40" y2="388.87" stroke="#2b2b2b" stroke-width="1.2"/>
<line x1="318.40" y1="358.83" x2="320.40" y2="358.83" stroke="#2b2b2b" stroke-width="1.2"/>
<line x1="318.40" y1="328.80" x2="320.40" y2="328.80" stroke="#2b2b2b" stroke-width="1.2"/>
<line x1="318.40" y1="298.77" x2="320.40" y2="298.77" stroke="#2b2b2b" stroke-width="1.2"/>
<line x1="318.40" y1="268.73" x2="320.40" y2="268.73" stroke="#2b2b2b" stroke-width="1.2"/>
<line x1="318.40" y1="238.70" x2="320.40" y2="238.70" stroke="#2b2b2b" stroke-width="1.2"/>
<text transform="translate(284.90,248.30) scale(0.92,1)" font-size="23" font-family="'Liberation Serif', serif" font-weight="bold" stroke="#000" stroke-width="0.25">d</text>
<text transform="translate(291.9,329.5) rotate(-90)" text-anchor="middle" font-size="11.6" font-family="'Liberation Serif', serif" font-weight="bold" stroke="#000" stroke-width="0.25">SO<tspan font-size="8.5" dy="2.8">3</tspan><tspan font-size="8.5" dy="-7.5">2−</tspan><tspan dy="4.7">−N C</tspan><tspan font-size="8.5" dy="2.8">t</tspan><tspan dy="-2.8">/C</tspan><tspan font-size="8.5" dy="2.8">0</tspan></text>
</svg>
</body></html>
